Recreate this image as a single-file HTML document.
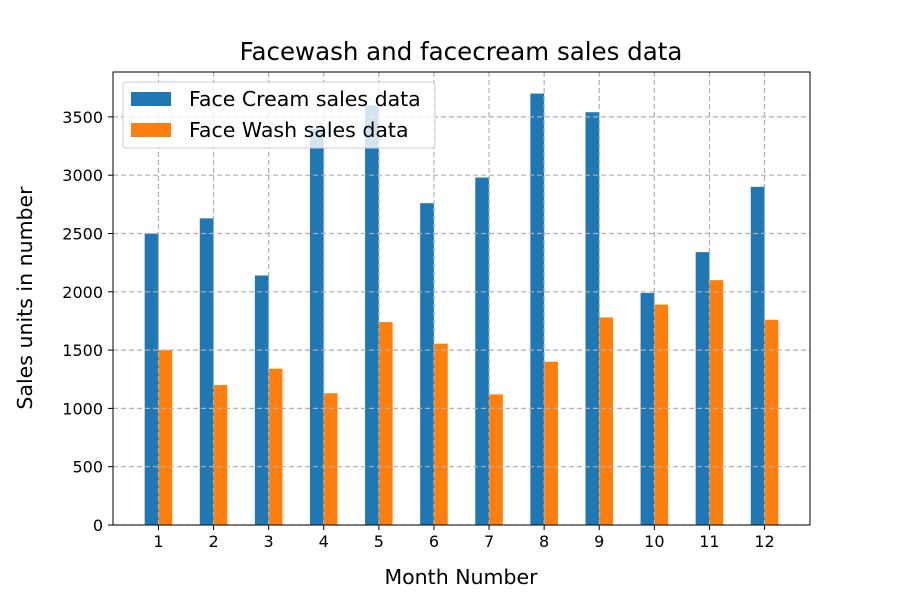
<!DOCTYPE html>
<html><head><meta charset="utf-8"><style>body{margin:0;background:#fff}svg{font-family:"DejaVu Sans","Liberation Sans",sans-serif}</style></head>
<body>
<svg id="chart" width="900" height="600" xmlns="http://www.w3.org/2000/svg"></svg>
<script>
const months = [1,2,3,4,5,6,7,8,9,10,11,12];
const faceCream = [2500,2630,2140,3400,3600,2760,2980,3700,3540,1990,2340,2900];
const faceWash = [1500,1200,1340,1130,1740,1555,1120,1400,1780,1890,2100,1760];
const yTicks = [0,500,1000,1500,2000,2500,3000,3500];

const L=113,R=810,T=72,B=525;
const xMin=0.175,xMax=12.825,yMax=3885;
const sx=v=>L+(v-xMin)/(xMax-xMin)*(R-L);
const sy=v=>B-v/yMax*(B-T);
const svg=document.getElementById('chart');
const NS='http://www.w3.org/2000/svg';
function mk(tag,attrs,parent){const e=document.createElementNS(NS,tag);for(const k in attrs)e.setAttribute(k,attrs[k]);(parent||svg).appendChild(e);return e;}
const bw=sx(0.25)-sx(0);
months.forEach((m,i)=>{
  let r=mk('rect',{x:sx(m-0.25),y:sy(faceCream[i]),width:bw,height:B-sy(faceCream[i]),fill:'#1f77b4'});
  
  
  r=mk('rect',{x:sx(m),y:sy(faceWash[i]),width:bw,height:B-sy(faceWash[i]),fill:'#ff7f0e'});
  
  
});
months.forEach(m=>{
  const g=mk('line',{x1:sx(m),x2:sx(m),y1:T,y2:B,stroke:'#b0b0b0','stroke-width':1.2,'stroke-dasharray':'5,3'});
  
  
  mk('line',{x1:sx(m),x2:sx(m),y1:B,y2:B+5,stroke:'#000'});
  const t=mk('text',{x:sx(m),y:B+22,'text-anchor':'middle','font-size':16});
  t.textContent=m;
  
  
});
yTicks.forEach(v=>{
  const g=mk('line',{x1:L,x2:R,y1:sy(v),y2:sy(v),stroke:'#b0b0b0','stroke-width':1.2,'stroke-dasharray':'5,3'});
  
  
  mk('line',{x1:L-5,x2:L,y1:sy(v),y2:sy(v),stroke:'#000'});
  const t=mk('text',{x:L-10,y:sy(v)+6,'text-anchor':'end','font-size':16});
  t.textContent=v;
  
  
});
mk('rect',{x:L,y:T,width:R-L,height:B-T,fill:'none',stroke:'#000','stroke-width':1});
</script>
<svg style="position:absolute;left:0;top:0" width="900" height="600" xmlns="http://www.w3.org/2000/svg">
<text x="461" y="60" text-anchor="middle" font-size="24.5">Facewash and facecream sales data</text>
<text x="461" y="584" text-anchor="middle" font-size="20.5">Month Number</text>
<text transform="translate(32,298) rotate(-90)" text-anchor="middle" font-size="20.5">Sales units in number</text>
<g>
<rect x="123" y="82" width="312" height="66" rx="3" fill="#fff" fill-opacity="0.8" stroke="#ccc"/>
<rect x="131" y="92" width="40" height="14" fill="#1f77b4"/>
<text x="189" y="106" font-size="20.5">Face Cream sales data</text>
<rect x="131" y="123" width="40" height="14" fill="#ff7f0e"/>
<text x="189" y="137" font-size="20.5">Face Wash sales data</text>
</g>
</svg>
</body></html>
